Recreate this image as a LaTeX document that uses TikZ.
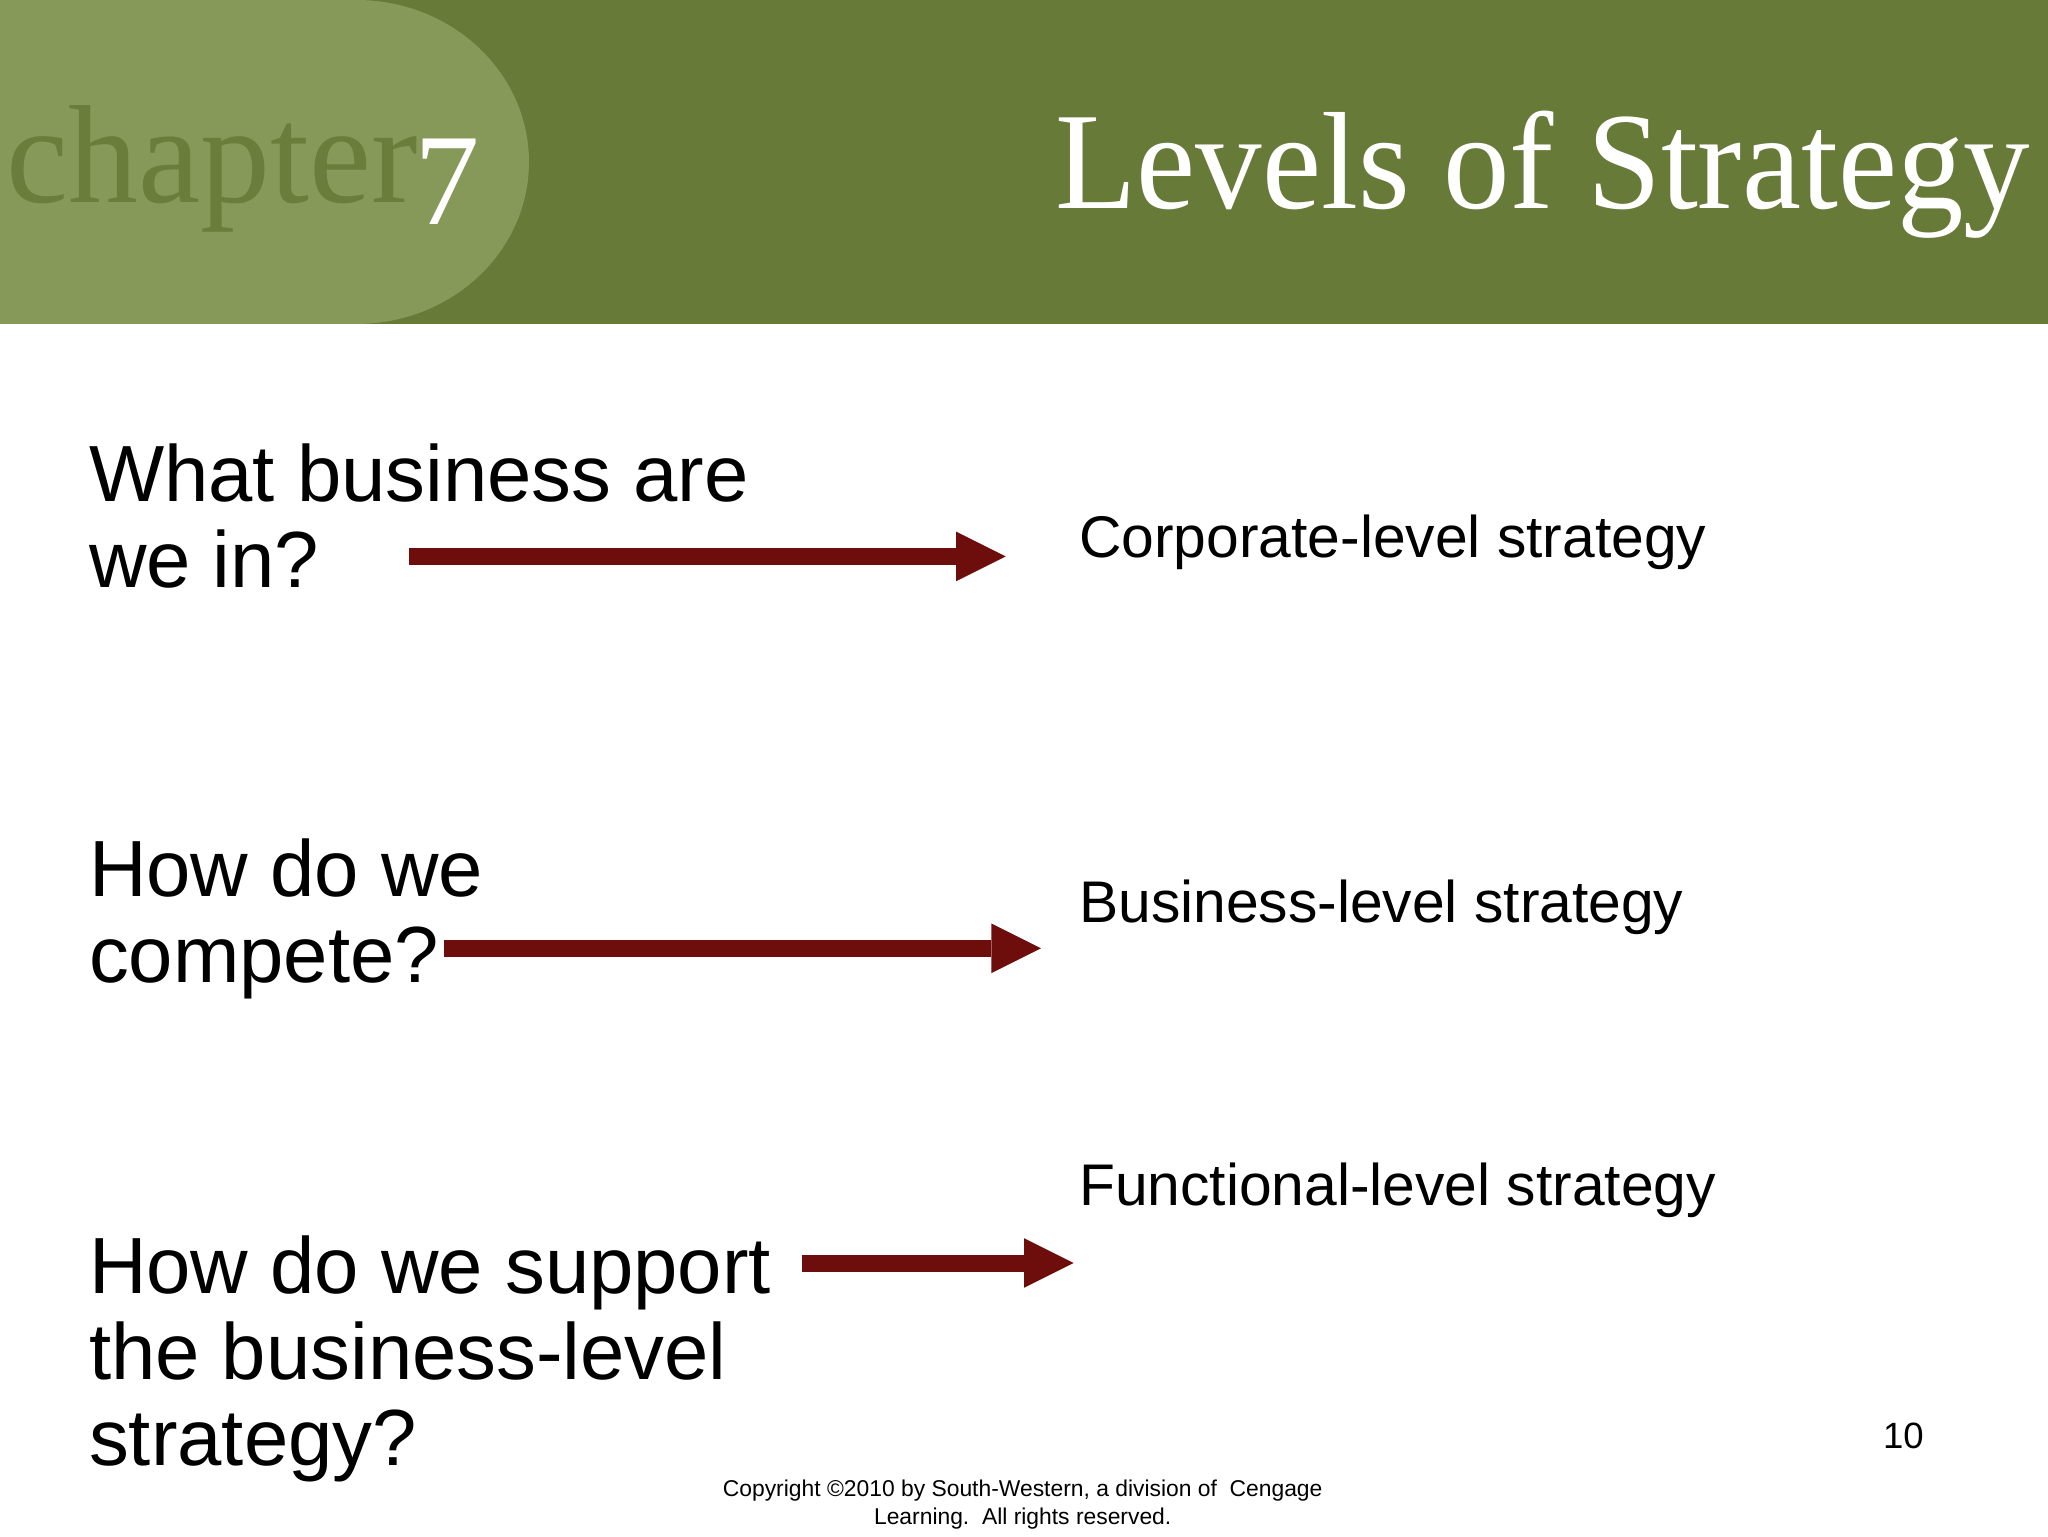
\documentclass[tikz,border=0pt]{standalone}
\usepackage{fontspec}
\setmainfont{Liberation Sans}
\newfontfamily\serifttl{Liberation Serif}
\usetikzlibrary{arrows.meta}
\definecolor{hdrdark}{RGB}{103,122,55}
\definecolor{hdrlight}{RGB}{135,153,88}
\definecolor{chapc}{RGB}{107,125,59}
\definecolor{arrowc}{RGB}{110,14,12}
\tikzset{
  question/.style={anchor=base west, inner sep=0pt, align=left, font=\fontsize{61}{66}\selectfont},
  level/.style={anchor=base west, inner sep=0pt, font=\fontsize{45}{54}\selectfont},
  bigarrow/.style={draw=arrowc, line width=13pt, -{Triangle[length=38pt,width=38pt,line width=0pt]}}
}
\begin{document}
\begin{tikzpicture}[x=1pt,y=1pt]
\useasboundingbox (0,0) rectangle (1568,-1176);
\fill[white] (0,0) rectangle (1568,-1176);
% header
\fill[hdrdark] (0,0) rectangle (1568,-248);
\fill[hdrlight] (0,0) -- (273,0) arc[start angle=90,end angle=-90,x radius=132,y radius=124] -- (0,-248) -- cycle;
\node[anchor=base west, inner sep=0pt, text=chapc, font=\serifttl\fontsize{107}{107}\selectfont] (chap) at (5,-155) {chapter};
\node[anchor=base west, inner sep=0pt, text=white, font=\serifttl\fontsize{100}{100}\selectfont] (num) at (317,-172) {7};
\node[anchor=base west, inner sep=0pt, text=white, font=\serifttl\fontsize{106}{106}\selectfont] (title) at (808,-160) {\scalebox{0.96}[1]{Levels of Strategy}};
% questions (base anchor = last line)
\node[question] (q1) at (68,-450) {What business are\\we in?};
\node[question] (q2) at (68,-752) {How do we\\compete?};
\node[question] (q3) at (68,-1122) {How do we support\\the business-level\\strategy?};
% levels
\node[level] (l1) at (826,-427) {Corporate-level strategy};
\node[level] (l2) at (826,-706) {Business-level strategy};
\node[level] (l3) at (826,-923) {Functional-level strategy};
% arrows
\coordinate (a1s) at (313,-426);
\coordinate (a1e) at (770,-426);
\coordinate (a2s) at (340,-726);
\coordinate (a2e) at (797,-726);
\coordinate (a3s) at (614,-967);
\coordinate (a3e) at (822,-967);
\draw[bigarrow] (a1s) -- (a1e);
\draw[bigarrow] (a2s) -- (a2e);
\draw[bigarrow] (a3s) -- (a3e);
% footer
\node[anchor=base east, inner sep=0pt, font=\fontsize{28}{28}\selectfont] (pg) at (1473,-1109) {10};
\node[anchor=base, inner sep=0pt, align=center, font=\fontsize{17.5}{21}\selectfont] (copy) at (783,-1167) {Copyright \textcopyright2010 by South-Western, a division of\ \ Cengage\\Learning.\ \ All rights reserved.};
\end{tikzpicture}
\end{document}
